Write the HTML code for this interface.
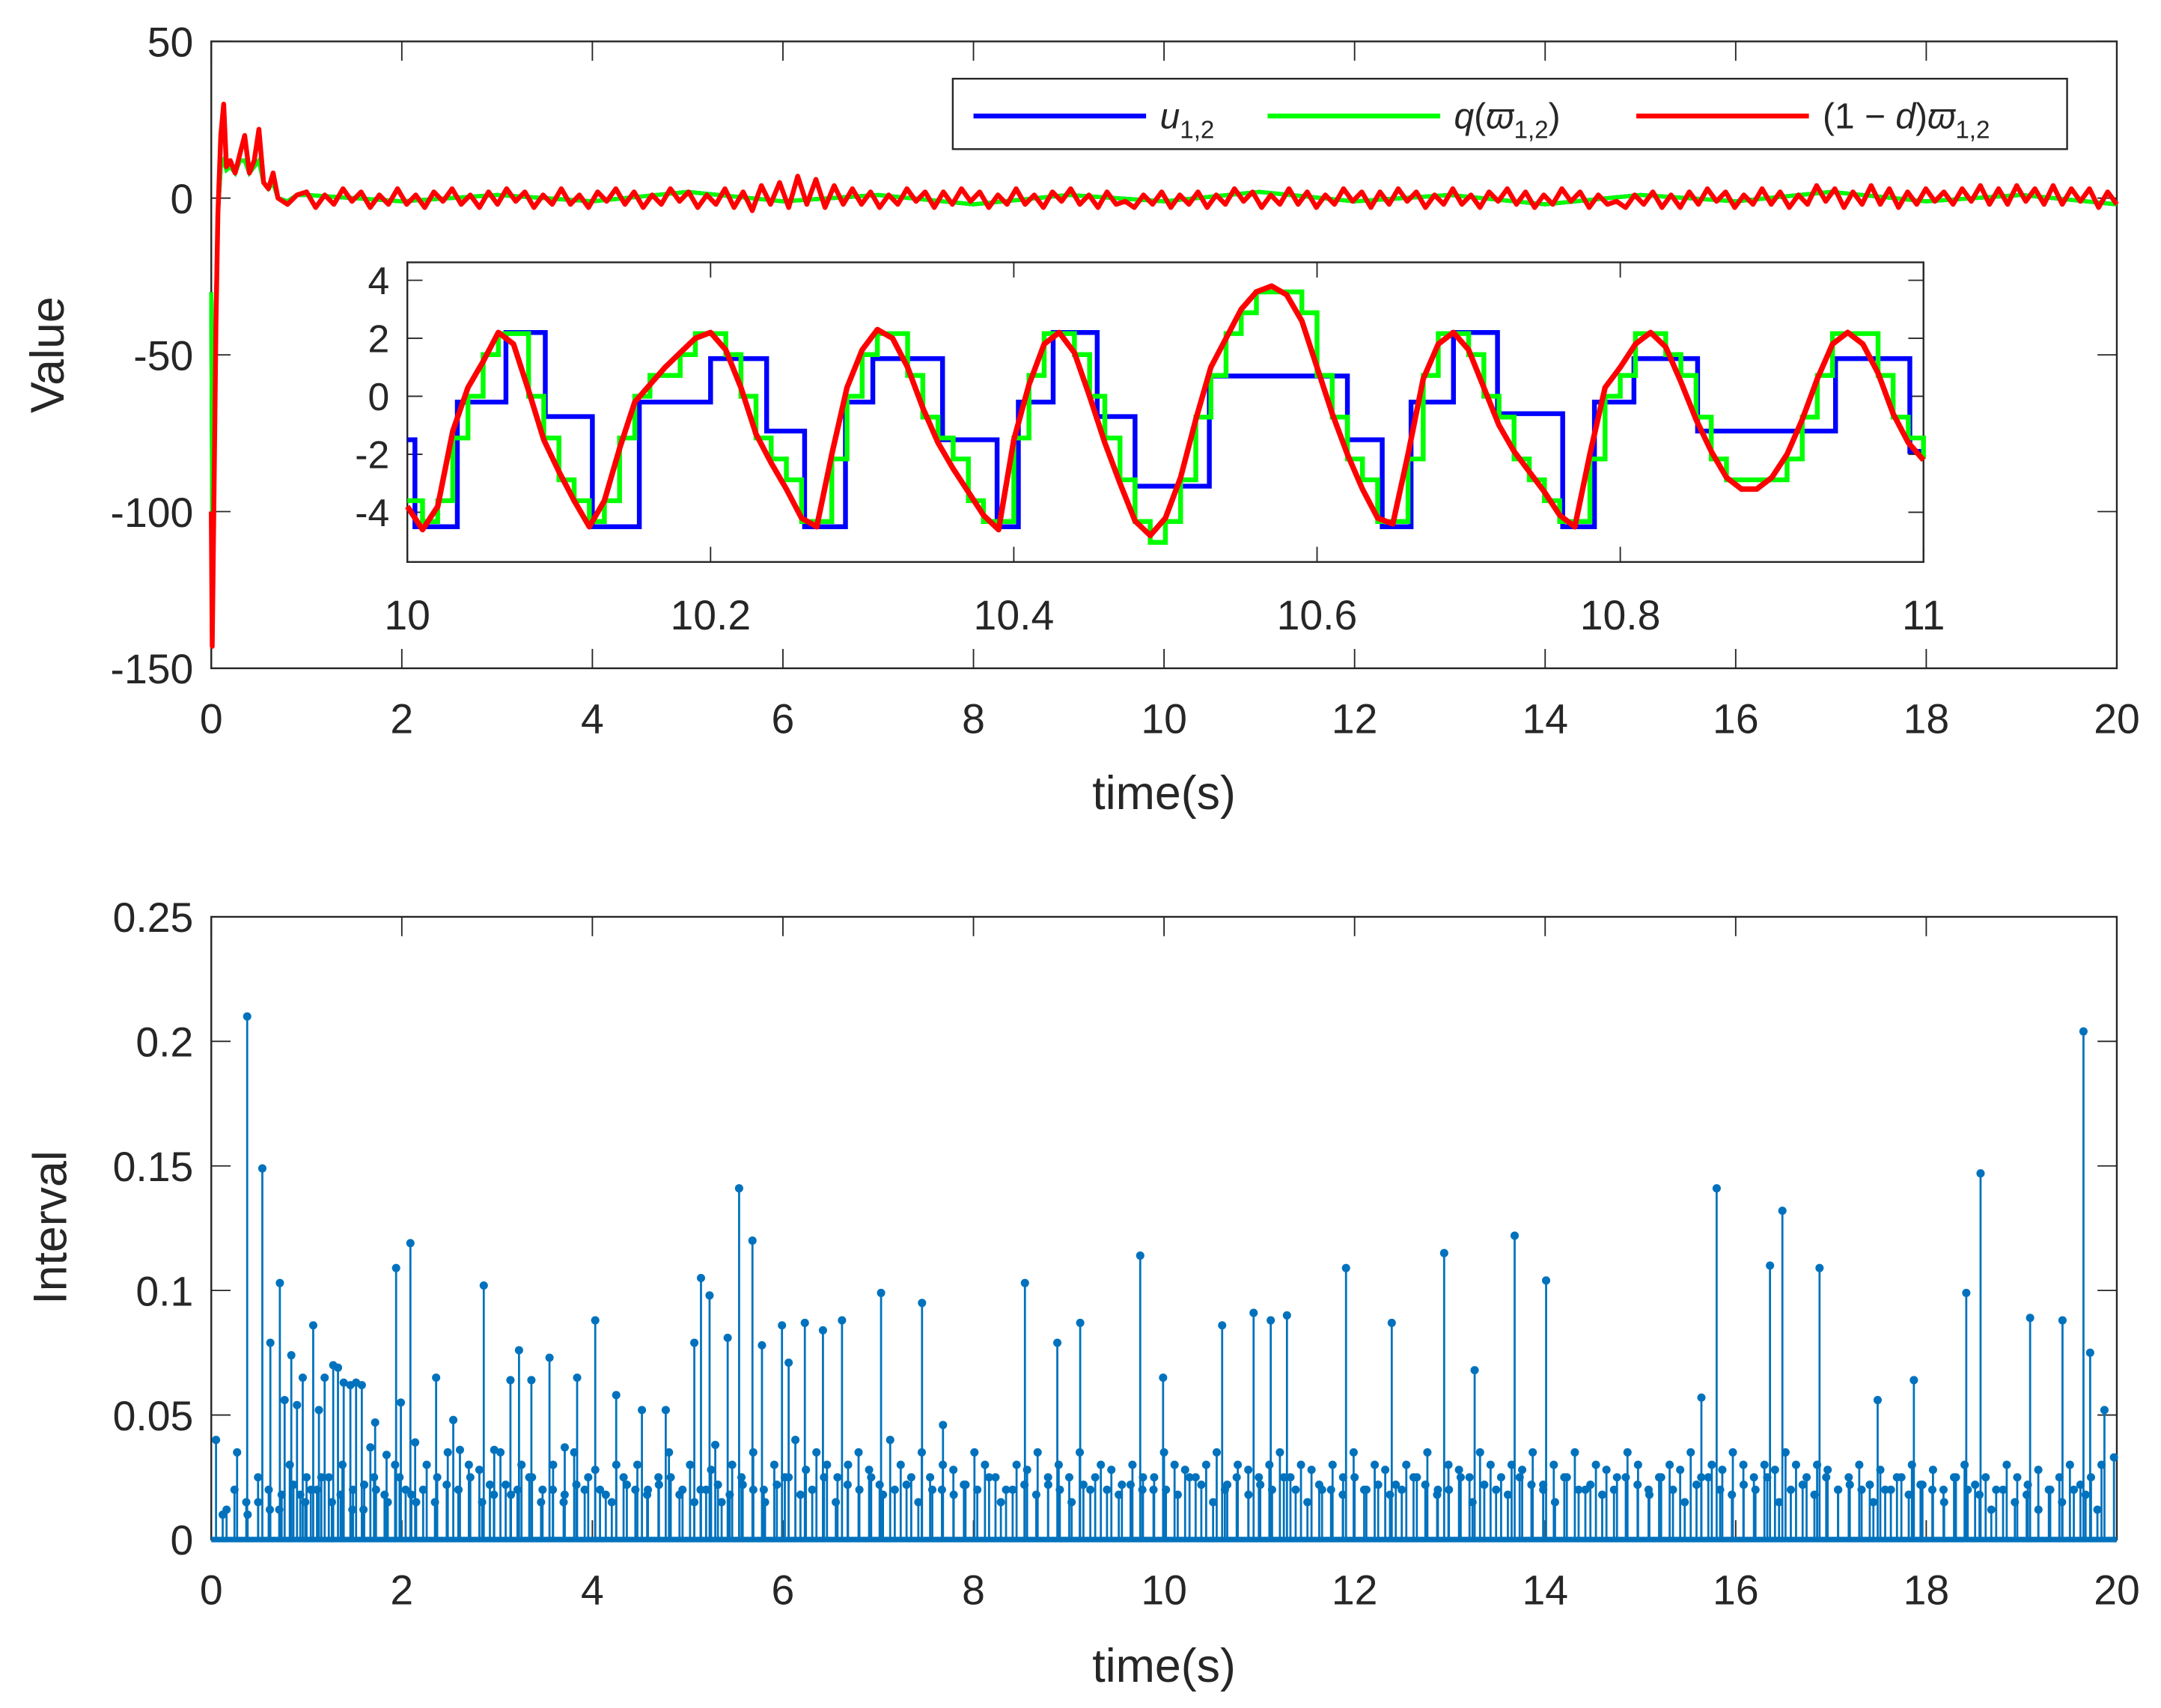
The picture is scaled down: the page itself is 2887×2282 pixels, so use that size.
<!DOCTYPE html>
<html><head><meta charset="utf-8"><style>
html,body{margin:0;padding:0;background:#fff}
svg{display:block}
text{font-family:"Liberation Sans",Arial,sans-serif;fill:#262626}
</style></head><body>
<svg id="fig" width="2887" height="2282" viewBox="0 0 1565 1237" preserveAspectRatio="none" xmlns="http://www.w3.org/2000/svg">
<rect x="0" y="0" width="1565" height="1237" fill="#fff"/>
<g id="topchart"></g>
<g id="inset"></g>
<g id="bot"></g>
</svg>
<script>
// ---------- data ----------
const transT=[0,0.01,0.03,0.05,0.07,0.1,0.13,0.16,0.2,0.25,0.3,0.35,0.4,0.45,0.5,0.55,0.6,0.65,0.7,0.8,0.9];
const transRed=[-100,-143,-90,-40,-5,20,30,10,12,8,14,20,8,12,22,5,3,8,0,-2,1];
const transGreen=[-30,-100,-80,-35,-5,10,12,9,10,8,12,12,8,10,12,5,3,5,0,-1,1];
const oscRed=[2,-3,1,-2,3,-1,2,-3,1,-2,3,-2,1,-3,2,-1,3,-2,1,-3,2,-2,3,-1,2,-3,1,-2,3,-2,
1,-3,2,-1,3,-2,2,-3,1,-2,3,-1,2,-3,1,-2,3,-3,2,-4,4,-2,5,-3,7,-2,6,-3,4,-2,
3,-2,2,-3,1,-2,3,-1,2,-3,2,-2,3,-1,2,-3,1,-2,3,-2,1,-3,2,-1,3,-2,1,-3,2,-2,
-1,-3,1,-2,2,-3,1,-2,2,-3,1,-2,3,-1,2,-3,1,-2,3,-2,2,-3,1,-2,3,-1,2,-3,2,-2,
3,-1,2,-3,1,-2,3,-2,1,-3,2,-1,3,-2,2,-3,1,-2,3,-1,2,-3,1,-2,-1,-3,1,-2,2,-3,
1,-3,2,-2,3,-1,2,-3,1,-2,3,-2,2,-3,1,-2,4,-1,3,-3,2,-2,4,-2,3,-3,2,-2,3,-1,
2,-2,3,-1,4,-2,3,-2,4,-1,3,-2,4,-2,3,-1,3,-3,2,-2];
const oscBlue=[1,-1,1,-1,2,-1,1,-2,1,-1,2,-1,1,-2,1,-1,2,-1,1,-2];

const inT0=10, inDt=0.01;
const inRed=[-3.8,-4.6,-3.8,-1.2,0.3,1.2,2.2,1.8,0.2,-1.5,-2.6,-3.6,-4.5,-3.6,-1.8,-0.2,0.4,1.0,1.5,2.0,
2.2,1.6,0.3,-1.3,-2.3,-3.2,-4.2,-4.5,-2.0,0.3,1.6,2.3,2.0,1.0,-0.4,-1.6,-2.5,-3.3,-4.1,-4.6,
-1.5,0.4,1.8,2.2,1.5,0,-1.6,-3.0,-4.3,-4.8,-4.2,-2.8,-0.8,1.0,2.0,3.0,3.6,3.8,3.5,2.6,
1.0,-0.6,-2.0,-3.2,-4.2,-4.4,-2.0,0.6,1.8,2.2,1.6,0.3,-1.0,-1.9,-2.6,-3.3,-4.1,-4.5,-2.0,0.3,
1.0,1.8,2.2,1.7,0.5,-0.8,-1.9,-2.8,-3.2,-3.2,-2.8,-2.0,-0.8,0.6,1.8,2.2,1.8,0.8,-0.6,-1.6,-2.2];
const qStep=0.72;
const blueT=[10,10.005,10.033,10.065,10.091,10.122,10.153,10.2,10.237,10.262,10.289,10.307,10.353,10.389,10.403,10.426,10.455,10.48,10.529,10.62,10.643,10.662,10.69,10.719,10.762,10.783,10.809,10.851,10.942,10.991];
const blueV=[-1.5,-4.5,-0.2,2.2,-0.7,-4.5,-0.2,1.3,-1.2,-4.5,-0.2,1.3,-1.5,-4.5,-0.2,2.2,-0.7,-3.1,0.7,-1.5,-4.5,-0.2,2.2,-0.6,-4.5,-0.2,1.3,-1.2,1.3,-1.9];

const tallT=[0.377,0.536,0.62,0.72,0.77,0.84,0.9,0.96,1.0,1.07,1.13,1.19,1.28,1.33,1.39,1.46,1.52,1.58,1.67,1.72,1.84,1.94,1.99,2.09,2.14,2.36,2.54,2.61,2.86,2.97,3.14,3.23,3.36,3.55,3.71,3.84,4.03,4.25,4.52,4.77,5.07,5.14,5.23,5.29,5.42,5.54,5.68,5.78,5.99,6.06,6.23,6.42,6.62,7.03,7.46,7.68,8.54,8.88,9.12,9.75,9.99,10.61,10.94,11.12,11.29,11.91,12.39,12.94,13.26,13.68,14.01,15.64,15.8,16.36,16.49,16.88,17.49,17.87,18.42,18.57,19.09,19.43,19.65,19.72,19.87,19.97];
const tallV=[0.21,0.149,0.079,0.103,0.056,0.074,0.054,0.065,0.025,0.086,0.052,0.065,0.07,0.069,0.063,0.062,0.063,0.062,0.037,0.047,0.034,0.109,0.055,0.119,0.039,0.065,0.048,0.036,0.102,0.036,0.064,0.076,0.064,0.073,0.037,0.065,0.088,0.058,0.052,0.052,0.079,0.105,0.098,0.038,0.081,0.141,0.12,0.078,0.086,0.071,0.087,0.084,0.088,0.099,0.095,0.046,0.103,0.079,0.087,0.114,0.065,0.086,0.091,0.088,0.09,0.109,0.087,0.115,0.068,0.122,0.104,0.057,0.141,0.11,0.132,0.109,0.056,0.064,0.099,0.147,0.089,0.088,0.204,0.075,0.052,0.033];
const smallV=[0.04,0.012,0.035,0.01,0.015,0.02,0.012,0.03,0.018,0.02,0.025,0.015,0.03,0.02,0.012,0.025,0.018,0.03,0.02,0.015,
0.03,0.025,0.035,0.02,0.03,0.028,0.022,0.035,0.018,0.03,0.025,0.02,0.03,0.015,0.035,0.02,0.028,0.018,0.03,0.022,
0.03,0.02,0.025,0.035,0.018,0.03,0.02,0.028,0.015,0.03,0.022,0.035,0.02,0.03,0.025,0.04,0.028,0.035,0.03,0.025,
0.03,0.035,0.028,0.022,0.04,0.03,0.025,0.035,0.02,0.03,0.028,0.022,0.035,0.03,0.025,0.02,0.03,0.028,0.035,0.022,
0.03,0.025,0.035,0.02,0.03,0.028,0.022,0.03,0.025,0.02,0.035,0.03,0.028,0.025,0.03,0.035,0.022,0.03,0.028,0.025,
0.03,0.035,0.025,0.03,0.028,0.02,0.03,0.025,0.035,0.02,0.03,0.028,0.022,0.03,0.025,0.035,0.02,0.03,0.028,0.025,
0.035,0.03,0.025,0.03,0.028,0.035,0.022,0.03,0.025,0.035,0.02,0.03,0.028,0.025,0.035,0.03,0.02,0.025,0.03,0.028,
0.035,0.025,0.03,0.028,0.035,0.03,0.025,0.03,0.028,0.035,0.03,0.025,0.03,0.028,0.02,0.025,0.03,0.022,0.028,0.02,
0.025,0.03,0.022,0.028,0.02,0.025,0.03,0.022,0.025,0.02,0.03,0.025,0.022,0.028,0.02,0.025,0.03,0.022,0.025,0.03];
const smallV2=[0.01,0.02,0.015,0.025,0.012,0.018,0.022,0.015,0.02,0.025,0.018,0.012,0.022,0.02,0.015,0.025,0.018,0.02,0.015,0.022,
0.02,0.025,0.015,0.018,0.022,0.02,0.025,0.015,0.02,0.018,0.022,0.025,0.02,0.015,0.025,0.02,0.018,0.022,0.025,0.02,
0.015,0.02,0.022,0.018,0.025,0.02,0.015,0.022,0.025,0.018,0.02,0.025,0.015,0.022,0.02,0.025,0.018,0.02,0.022,0.015,
0.025,0.02,0.018,0.022,0.02,0.025,0.015,0.02,0.022,0.018,0.025,0.02,0.015,0.022,0.025,0.02,0.018,0.022,0.02,0.025,
0.02,0.018,0.025,0.022,0.015,0.02,0.025,0.018,0.022,0.02,0.025,0.02,0.015,0.022,0.02,0.018,0.025,0.02,0.022,0.018,
0.02,0.025,0.022,0.018,0.02,0.025,0.015,0.022,0.02,0.018,0.025,0.022,0.02,0.015,0.025,0.02,0.022,0.018,0.02,0.025,
0.022,0.018,0.025,0.02,0.015,0.022,0.025,0.02,0.018,0.022,0.02,0.025,0.015,0.02,0.022,0.018,0.025,0.02,0.022,0.02,
0.015,0.02,0.025,0.018,0.022,0.02,0.015,0.025,0.02,0.018,0.012,0.02,0.015,0.018,0.012,0.02,0.015,0.02,0.018,0.012];
const xTicks=[0,2,4,6,8,10,12,14,16,18,20];
const topYTicks=[50,0,-50,-100,-150];
const insetXTicks=[10,10.2,10.4,10.6,10.8,11];
const insetYTicks=[4,2,0,-2,-4];
const botYTicks=[0,0.05,0.1,0.15,0.2,0.25];

// ---------- helpers ----------
const NS="http://www.w3.org/2000/svg";
function mk(parent,tag,attrs,txt){const e=document.createElementNS(NS,tag);for(const k in attrs)e.setAttribute(k,attrs[k]);if(txt!==undefined)e.textContent=txt;parent.appendChild(e);return e;}
const X0=153,X1=1533;
const sx=t=>X0+(t/20)*(X1-X0);
const syTop=v=>30+(50-v)/200*(484-30);
const ixs=t=>295+(t-10)*(1393-295);
const iys=v=>287-v*21;
const syBot=v=>1115-v/0.25*(1115-664);
const fmt=v=>String(v);

// ---------- top ----------
const topG=document.getElementById('topchart');
let a=mk(topG,'rect',{x:X0,y:30,width:X1-X0,height:454,fill:'#fff',stroke:'#262626','stroke-width':1.3});


xTicks.forEach(t=>{mk(topG,'line',{x1:sx(t),x2:sx(t),y1:484,y2:470,stroke:'#262626'});mk(topG,'line',{x1:sx(t),x2:sx(t),y1:30,y2:44,stroke:'#262626'});
 const l=mk(topG,'text',{x:sx(t),y:531,'font-size':30,'text-anchor':'middle'},fmt(t));
 
 });
topYTicks.forEach(v=>{mk(topG,'line',{x1:X0,x2:X0+14,y1:syTop(v),y2:syTop(v),stroke:'#262626'});mk(topG,'line',{x1:X1,x2:X1-14,y1:syTop(v),y2:syTop(v),stroke:'#262626'});
 const l=mk(topG,'text',{x:140,y:syTop(v)+11,'font-size':30,'text-anchor':'end'},fmt(v));
 
 });
let tl=mk(topG,'text',{x:843,y:586,'font-size':34,'text-anchor':'middle'},'time(s)');


tl=mk(topG,'text',{x:46,y:257,'font-size':34,'text-anchor':'middle',transform:'rotate(-90 46 257)'},'Value');



function series(ts,vs){return ts.map((t,i)=>sx(t).toFixed(1)+','+syTop(vs[i]).toFixed(1)).join(' ');}
const oscDt=19/(oscRed.length-1);
const oscT=oscRed.map((_,i)=>1.0+i*oscDt);
const bDt=19/(oscBlue.length-1);
const bT=oscBlue.map((_,i)=>1.0+i*bDt);
let p=mk(topG,'polyline',{points:series(transT.concat(bT),transGreen.concat(oscBlue)),fill:'none',stroke:'#0000ff','stroke-width':3});


p=mk(topG,'polyline',{points:series(transT.concat(bT),transGreen.concat(oscBlue)),fill:'none',stroke:'#00ff00','stroke-width':3});


p=mk(topG,'polyline',{points:series(transT.concat(oscT),transRed.concat(oscRed)),fill:'none',stroke:'#ff0000','stroke-width':3.5,'stroke-linejoin':'round'});



// legend
const lg=mk(topG,'g',{});


mk(lg,'rect',{x:690,y:57,width:807,height:51,fill:'#fff',stroke:'#262626','stroke-width':1.3});
let e=mk(lg,'line',{x1:705,x2:830,y1:84,y2:84,stroke:'#0000ff','stroke-width':3.5});


e=mk(lg,'text',{x:840,y:93,'font-size':26,'font-family':'Liberation Serif','font-style':'italic'});e.innerHTML='u<tspan font-size="18" dy="7" font-style="normal">1,2</tspan>';
e=mk(lg,'line',{x1:918,x2:1043,y1:84,y2:84,stroke:'#00ff00','stroke-width':3.5});


e=mk(lg,'text',{x:1053,y:93,'font-size':26,'font-family':'Liberation Serif','font-style':'italic'});e.innerHTML='q<tspan font-style="normal">(</tspan>ϖ<tspan font-size="18" dy="7" font-style="normal">1,2</tspan><tspan dy="-7" font-style="normal">)</tspan>';
e=mk(lg,'line',{x1:1185,x2:1310,y1:84,y2:84,stroke:'#ff0000','stroke-width':3.5});


e=mk(lg,'text',{x:1320,y:93,'font-size':26,'font-family':'Liberation Serif','font-style':'italic'});e.innerHTML='<tspan font-style="normal">(1 − </tspan>d<tspan font-style="normal">)</tspan>ϖ<tspan font-size="18" dy="7" font-style="normal">1,2</tspan>';

// ---------- inset ----------
const ins=document.getElementById('inset');
mk(ins,'rect',{x:295,y:190,width:1098,height:217,fill:'#fff',stroke:'#262626','stroke-width':1.3});
insetXTicks.forEach(t=>{mk(ins,'line',{x1:ixs(t),x2:ixs(t),y1:407,y2:396,stroke:'#262626'});mk(ins,'line',{x1:ixs(t),x2:ixs(t),y1:190,y2:201,stroke:'#262626'});
 const l=mk(ins,'text',{x:ixs(t),y:456,'font-size':30,'text-anchor':'middle'},fmt(t));
 
 });
insetYTicks.forEach(v=>{mk(ins,'line',{x1:295,x2:306,y1:iys(v),y2:iys(v),stroke:'#262626'});mk(ins,'line',{x1:1393,x2:1382,y1:iys(v),y2:iys(v),stroke:'#262626'});
 const l=mk(ins,'text',{x:282,y:iys(v)+10,'font-size':28,'text-anchor':'end'},fmt(v));
 
 });
let d='';blueT.forEach((t,i)=>{const nt=i+1<blueT.length?blueT[i+1]:11;d+=(i?'L':'M')+ixs(t).toFixed(1)+','+iys(blueV[i]).toFixed(1)+'L'+ixs(nt).toFixed(1)+','+iys(blueV[i]).toFixed(1);});
p=mk(ins,'path',{d:d,fill:'none',stroke:'#0000ff','stroke-width':3.5});


d='';inRed.forEach((v,i)=>{const t=inT0+i*inDt,nt=Math.min(11,t+inDt),q=Math.round(v/qStep)*qStep;d+=(i?'L':'M')+ixs(t).toFixed(1)+','+iys(q).toFixed(1)+'L'+ixs(nt).toFixed(1)+','+iys(q).toFixed(1);});
p=mk(ins,'path',{d:d,fill:'none',stroke:'#00ff00','stroke-width':3.5});


p=mk(ins,'polyline',{points:inRed.map((v,i)=>ixs(inT0+i*inDt).toFixed(1)+','+iys(v).toFixed(1)).join(' '),fill:'none',stroke:'#ff0000','stroke-width':4,'stroke-linejoin':'round'});



// ---------- bottom ----------
const bot=document.getElementById('bot');
mk(bot,'rect',{x:X0,y:664,width:X1-X0,height:451,fill:'#fff',stroke:'#262626','stroke-width':1.3});
xTicks.forEach(t=>{mk(bot,'line',{x1:sx(t),x2:sx(t),y1:1115,y2:1101,stroke:'#262626'});mk(bot,'line',{x1:sx(t),x2:sx(t),y1:664,y2:678,stroke:'#262626'});
 const l=mk(bot,'text',{x:sx(t),y:1162,'font-size':30,'text-anchor':'middle'},fmt(t));
 
 });
botYTicks.forEach(v=>{mk(bot,'line',{x1:X0,x2:X0+14,y1:syBot(v),y2:syBot(v),stroke:'#262626'});mk(bot,'line',{x1:X1,x2:X1-14,y1:syBot(v),y2:syBot(v),stroke:'#262626'});
 const l=mk(bot,'text',{x:140,y:syBot(v)+11,'font-size':30,'text-anchor':'end'},fmt(v));
 
 });
tl=mk(bot,'text',{x:843,y:1218,'font-size':34,'text-anchor':'middle'},'time(s)');


tl=mk(bot,'text',{x:48,y:889,'font-size':34,'text-anchor':'middle',transform:'rotate(-90 48 889)'},'Interval');


const stems=mk(bot,'g',{});


function stem(t,v){mk(stems,'line',{x1:sx(t),x2:sx(t),y1:syBot(0),y2:syBot(v),stroke:'#0072BD','stroke-width':1.5});mk(stems,'circle',{cx:sx(t),cy:syBot(v),r:3,fill:'#0072BD'});}
const sDt=19.9/smallV.length;
smallV.forEach((v,i)=>stem(0.05+i*sDt,v));
const sDt2=19.8/smallV2.length;
smallV2.forEach((v,i)=>stem(0.12+i*sDt2,v));
tallT.forEach((t,i)=>stem(t,tallV[i]));
const base=mk(bot,'line',{x1:X0,x2:X1,y1:syBot(0),y2:syBot(0),stroke:'#0072BD','stroke-width':4});


</script>
</body></html>
